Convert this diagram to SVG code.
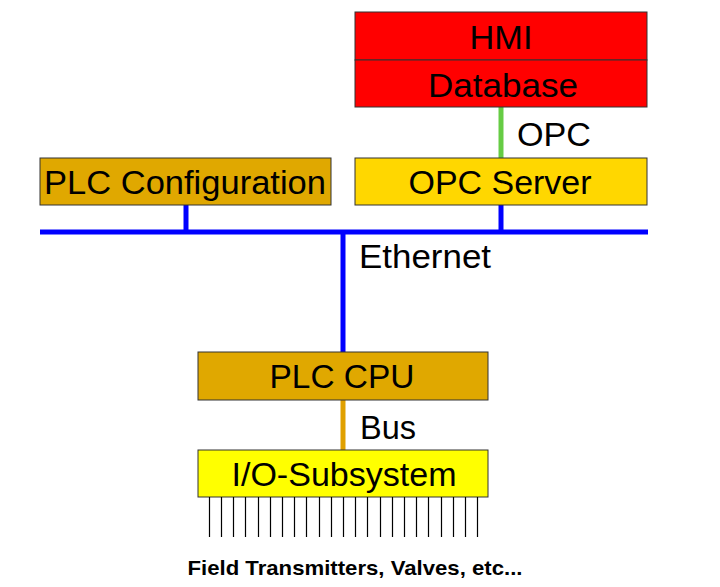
<svg xmlns="http://www.w3.org/2000/svg" width="720" height="587" viewBox="0 0 720 587">
<style>
.box{stroke:#333;stroke-width:1}
.t{font-family:"Liberation Sans",Arial,sans-serif;font-size:33px;fill:#000;text-anchor:middle}
.lbl{font-family:"Liberation Sans",Arial,sans-serif;font-size:33px;fill:#000}
.tick{stroke:#000;stroke-width:1.2}
</style>
<rect width="720" height="587" fill="#fff"/>
<g id="connectors">
<line x1="40" y1="232" x2="648" y2="232" stroke="#0000ff" stroke-width="5"/>
<line x1="186" y1="205" x2="186" y2="232" stroke="#0000ff" stroke-width="5"/>
<line x1="501" y1="205" x2="501" y2="232" stroke="#0000ff" stroke-width="5"/>
<line x1="343" y1="232" x2="343" y2="352" stroke="#0000ff" stroke-width="5"/>
<line x1="501" y1="107" x2="501" y2="158" stroke="#66cc44" stroke-width="5"/>
<line x1="343" y1="400" x2="343" y2="450" stroke="#e0a000" stroke-width="5"/>
<text class="lbl" x="517" y="146" textLength="74" lengthAdjust="spacingAndGlyphs">OPC</text>
<text class="lbl" x="359" y="268" textLength="132" lengthAdjust="spacingAndGlyphs">Ethernet</text>
<text class="lbl" x="360" y="439" textLength="56" lengthAdjust="spacingAndGlyphs">Bus</text>
</g>
<g id="hmi">
<rect class="box" x="355" y="12" width="292" height="48" fill="#ff0000"/>
<text class="t" x="501" y="49" textLength="63" lengthAdjust="spacingAndGlyphs">HMI</text>
</g>
<g id="database">
<rect class="box" x="355" y="60" width="292" height="47" fill="#ff0000"/>
<text class="t" x="503" y="97" textLength="150" lengthAdjust="spacingAndGlyphs">Database</text>
</g>
<g id="plc-config">
<rect class="box" x="40" y="158" width="291" height="47" fill="#e0a800"/>
<text class="t" x="185" y="194" textLength="282" lengthAdjust="spacingAndGlyphs">PLC Configuration</text>
</g>
<g id="opc-server">
<rect class="box" x="355" y="158" width="292" height="47" fill="#ffd700"/>
<text class="t" x="500" y="194" textLength="183" lengthAdjust="spacingAndGlyphs">OPC Server</text>
</g>
<g id="plc-cpu">
<rect class="box" x="198" y="352" width="290" height="48" fill="#e0a800"/>
<text class="t" x="342" y="388" textLength="145" lengthAdjust="spacingAndGlyphs">PLC CPU</text>
</g>
<g id="io-subsystem">
<rect class="box" x="198" y="450" width="290" height="47" fill="#ffff00"/>
<text class="t" x="344" y="486" textLength="225" lengthAdjust="spacingAndGlyphs">I/O-Subsystem</text>
</g>
<g id="field">
<path class="tick" d="M209.5 497V537M221.5 497V537M233.5 497V537M245.5 497V537M258.5 497V537M270.5 497V537M282.5 497V537M294.5 497V537M306.5 497V537M319.5 497V537M331.5 497V537M343.5 497V537M355.5 497V537M367.5 497V537M380.5 497V537M392.5 497V537M404.5 497V537M416.5 497V537M428.5 497V537M441.5 497V537M453.5 497V537M465.5 497V537M477.5 497V537"/>
<text x="355" y="575" text-anchor="middle" font-family="'Liberation Sans',Arial,sans-serif" font-weight="bold" font-size="21" textLength="335" lengthAdjust="spacingAndGlyphs">Field Transmitters, Valves, etc...</text>
</g>
</svg>
